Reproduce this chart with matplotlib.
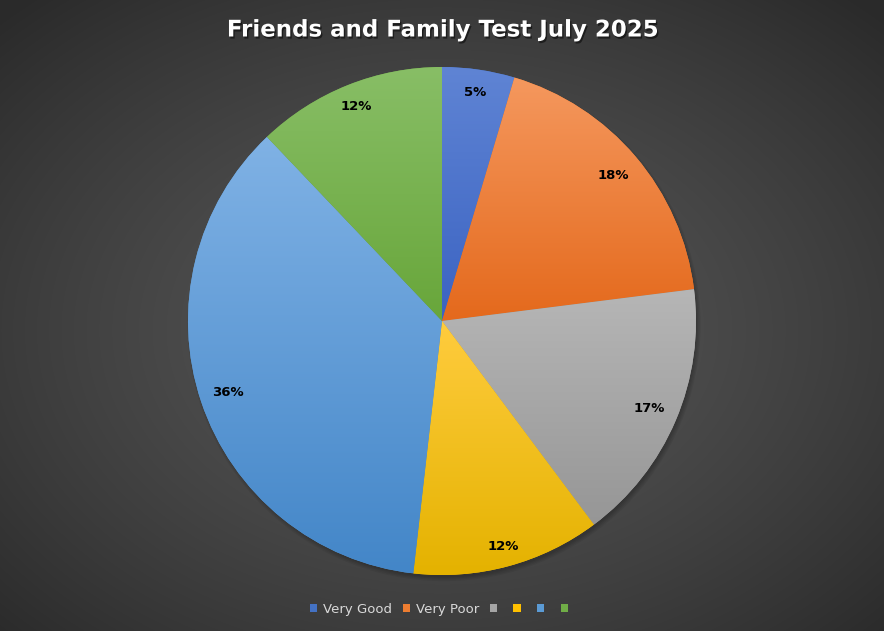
import numpy as np
import matplotlib
matplotlib.use('Agg')
import matplotlib.pyplot as plt
from matplotlib.colors import to_rgb
from matplotlib.patches import Patch, Circle
import matplotlib.patheffects as pe

title = "Friends and Family Test July 2025"
labels = ["Very Good", "Very Poor", "", "", "", ""]
values = [4.6, 18.4, 16.8, 12.0, 36.1, 12.1]
base_colors = ["#4472C4", "#ED7D31", "#A5A5A5", "#FFC000", "#5B9BD5", "#70AD47"]
top_colors = ["#5F84D4", "#F5985E", "#B6B6B6", "#FFCC3E", "#80B2E5", "#88BE66"]
bottom_colors = ["#3B63C2", "#E4691C", "#969696", "#E4B200", "#4386C8", "#68A63A"]
label_dist = [0.91, 0.885, 0.885, 0.92, 0.89, 0.91]

W, H = 884, 631
fig = plt.figure(figsize=(W / 100, H / 100), dpi=100)

# radial gradient background
bg = fig.add_axes([0, 0, 1, 1])
bg.axis('off')
yy, xx = np.mgrid[0:H, 0:W]
cx, cy = 442, 330
d = np.sqrt(((xx - cx) / (W / 2)) ** 2 + ((yy - cy) / (H / 2)) ** 2) / np.sqrt(2)
d = np.clip(d, 0, 1) ** 1.4
c0 = np.array(to_rgb("#565656"))
c1 = np.array(to_rgb("#2A2A2A"))
img = c0[None, None, :] + (c1 - c0)[None, None, :] * d[:, :, None]
bg.imshow(img, extent=(0, 1, 0, 1), aspect='auto', origin='upper')
bg.set_xlim(0, 1)
bg.set_ylim(0, 1)

# pie axes
r_px = 254
pcx, pcy = 442, H - 321
ax = fig.add_axes([(pcx - r_px) / W, (pcy - r_px) / H, 2 * r_px / W, 2 * r_px / H])
ax.axis('off')

# soft shadow (mostly bottom-right)
for i in range(4):
    ax.add_patch(Circle((0.008, -0.014), 0.995 + 0.005 * i, color='black',
                        alpha=0.06, lw=0, zorder=0, clip_on=False))

wedges, texts, autotexts = ax.pie(
    values, startangle=90, counterclock=False, colors=base_colors,
    autopct='%.0f%%', pctdistance=0.895,
    wedgeprops=dict(linewidth=0),
    textprops=dict(fontsize=9.5, fontweight='bold', color='black'))

for w, ct, cb in zip(wedges, top_colors, bottom_colors):
    ext = w.get_path().get_extents()
    t = np.linspace(0, 1, 256)[:, None]
    a = np.array(to_rgb(ct))
    b = np.array(to_rgb(cb))
    grad = (a[None, None, :] + (b - a)[None, None, :] * t[:, :, None])
    im = ax.imshow(grad, extent=(ext.x0, ext.x1, ext.y0, ext.y1), aspect='auto',
                   origin='upper', interpolation='bilinear', zorder=2)
    im.set_clip_path(w)

for w, t_, dist in zip(wedges, autotexts, label_dist):
    ang = np.deg2rad((w.theta1 + w.theta2) / 2)
    t_.set_position((dist * np.cos(ang), dist * np.sin(ang)))
    t_.set_zorder(5)

ax.set_xlim(-1, 1)
ax.set_ylim(-1, 1)

fig.text(0.5, 1 - 30 / H, title, ha='center', va='center', color='white',
         fontsize=16.5, fontweight='bold',
         path_effects=[pe.withSimplePatchShadow(offset=(1, -1.5), shadow_rgbFace='black', alpha=0.5)])

handles = [Patch(facecolor=c, edgecolor='none') for c in base_colors]
fig.legend(handles=handles, labels=labels, loc='center',
           bbox_to_anchor=(0.5, 1 - 609 / H), ncol=6, frameon=False,
           fontsize=9.5, labelcolor='#D9D9D9', handlelength=0.55,
           handleheight=0.55, handletextpad=0.45, columnspacing=0.8)

fig.savefig('out.png', dpi=100)
